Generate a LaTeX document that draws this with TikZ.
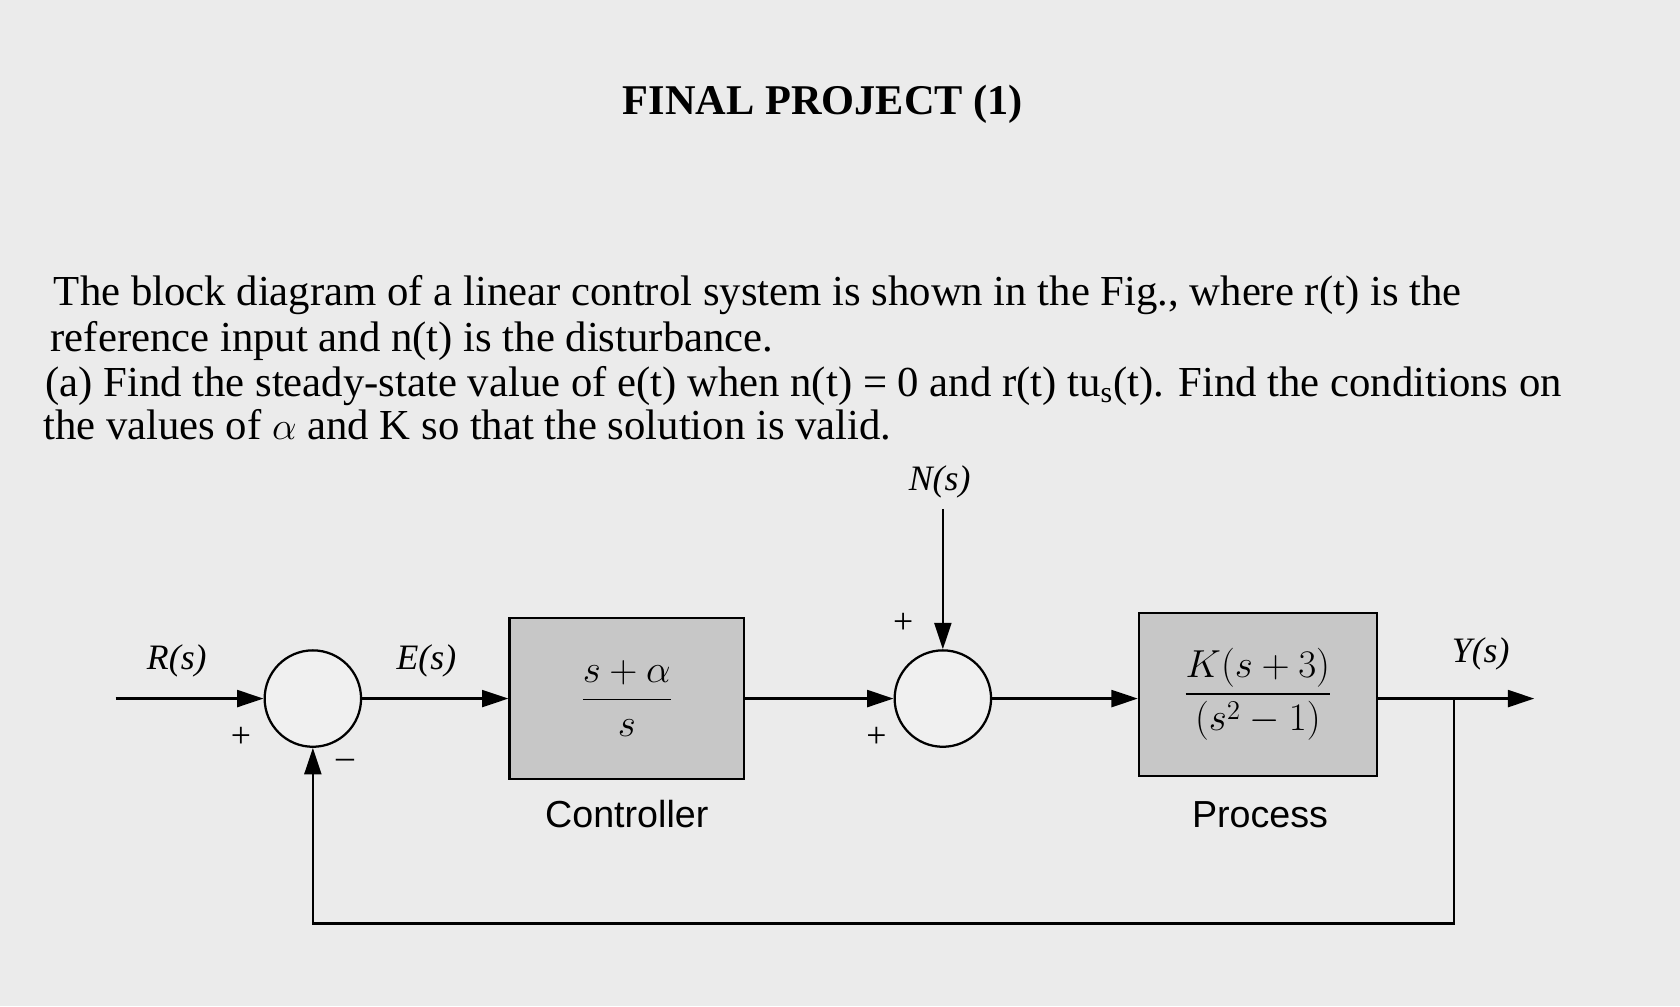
\documentclass[tikz,border=0pt]{standalone}
\usepackage{amsmath}
\usepackage{fontspec}
\setmainfont{Liberation Serif}
\setsansfont{Liberation Sans}
\usetikzlibrary{arrows.meta}
\begin{document}
\begin{tikzpicture}[x=0.02cm,y=-0.02cm,
  body/.style={anchor=base west,inner sep=0,font=\fontsize{22.7}{26}\selectfont},
  lab/.style={font=\fontsize{19}{22}\selectfont\itshape},
  sgn/.style={font=\fontsize{19}{22}\selectfont},
  blk/.style={draw,line width=1.2pt,fill=black!22},
  sumc/.style={draw,circle,line width=1.2pt,minimum size=1.8cm,inner sep=0,fill=white!94!black},
  ln/.style={line width=1.2pt},
  arr/.style={ln,-{Triangle[length=14pt,width=9pt]}}]
\useasboundingbox (0,0) rectangle (1568,939);
\fill[black!8] (0,0) rectangle (1568,939);
\node[font=\fontsize{22.5}{26}\selectfont\bfseries] (title) at (768,97) {FINAL PROJECT (1)};
\node[body] (l1) at (50,285) {The block diagram of a linear control system is shown in the Fig., where r(t) is the};
\node[body] (l2) at (47,328) {reference input and n(t) is the disturbance.};
\node[body] (l3) at (42,370) {(a) Find the steady-state value of e(t) when n(t) = 0 and r(t) tu\textsubscript{s}(t). Find the conditions on};
\node[body] (l4) at (40,410) {the values of $\alpha$ and K so that the solution is valid.};

\node[sumc] (s1) at (292,652) {};
\node[sumc] (s2) at (880,652) {};
\node[blk,minimum width=4.38cm,minimum height=3cm] (ctl) at (585,652) {};
\node[blk,minimum width=4.44cm,minimum height=3.04cm] (proc) at (1174,648) {};
\node[font=\fontsize{21}{24}\selectfont] (cf) at (ctl) {$\dfrac{s+\alpha}{s}$};
\node[font=\fontsize{22}{25}\selectfont] (pf) at (proc) {$\dfrac{K(s+3)}{(s^2-1)}$};
\node[font=\sffamily\fontsize{20}{24}\selectfont] (cl) at (585,760) {Controller};
\node[font=\sffamily\fontsize{20}{24}\selectfont] (pl) at (1176,760) {Process};
\node[lab] (R) at (165,617) {R(s)};
\node[lab] (E) at (398,617) {E(s)};
\node[lab] (N) at (877,450) {N(s)};
\node[lab] (Y) at (1382,610) {Y(s)};
\node[sgn] (p1) at (225,688) {+};
\node[sgn] (m1) at (322,713) {--};
\node[sgn] (p2) at (818,688) {+};
\node[sgn] (p3) at (843,582) {+};
\coordinate (rin) at (108,652);
\coordinate (nin) at (880,475);
\coordinate (tap) at (1357,652);
\coordinate (yout) at (1432,652);
\coordinate (fb1) at (1357,862);
\coordinate (fb2) at (292,862);
\draw[arr] (rin) -- (s1);
\draw[arr] (s1) -- (ctl);
\draw[arr] (ctl) -- (s2);
\draw[arr] (nin) -- (s2);
\draw[arr] (s2) -- (proc.west |- s2);
\draw[arr] (proc.east |- tap) -- (yout);
\draw[arr] (tap) -- (fb1) -- (fb2) -- (s1);
\end{tikzpicture}
\end{document}
